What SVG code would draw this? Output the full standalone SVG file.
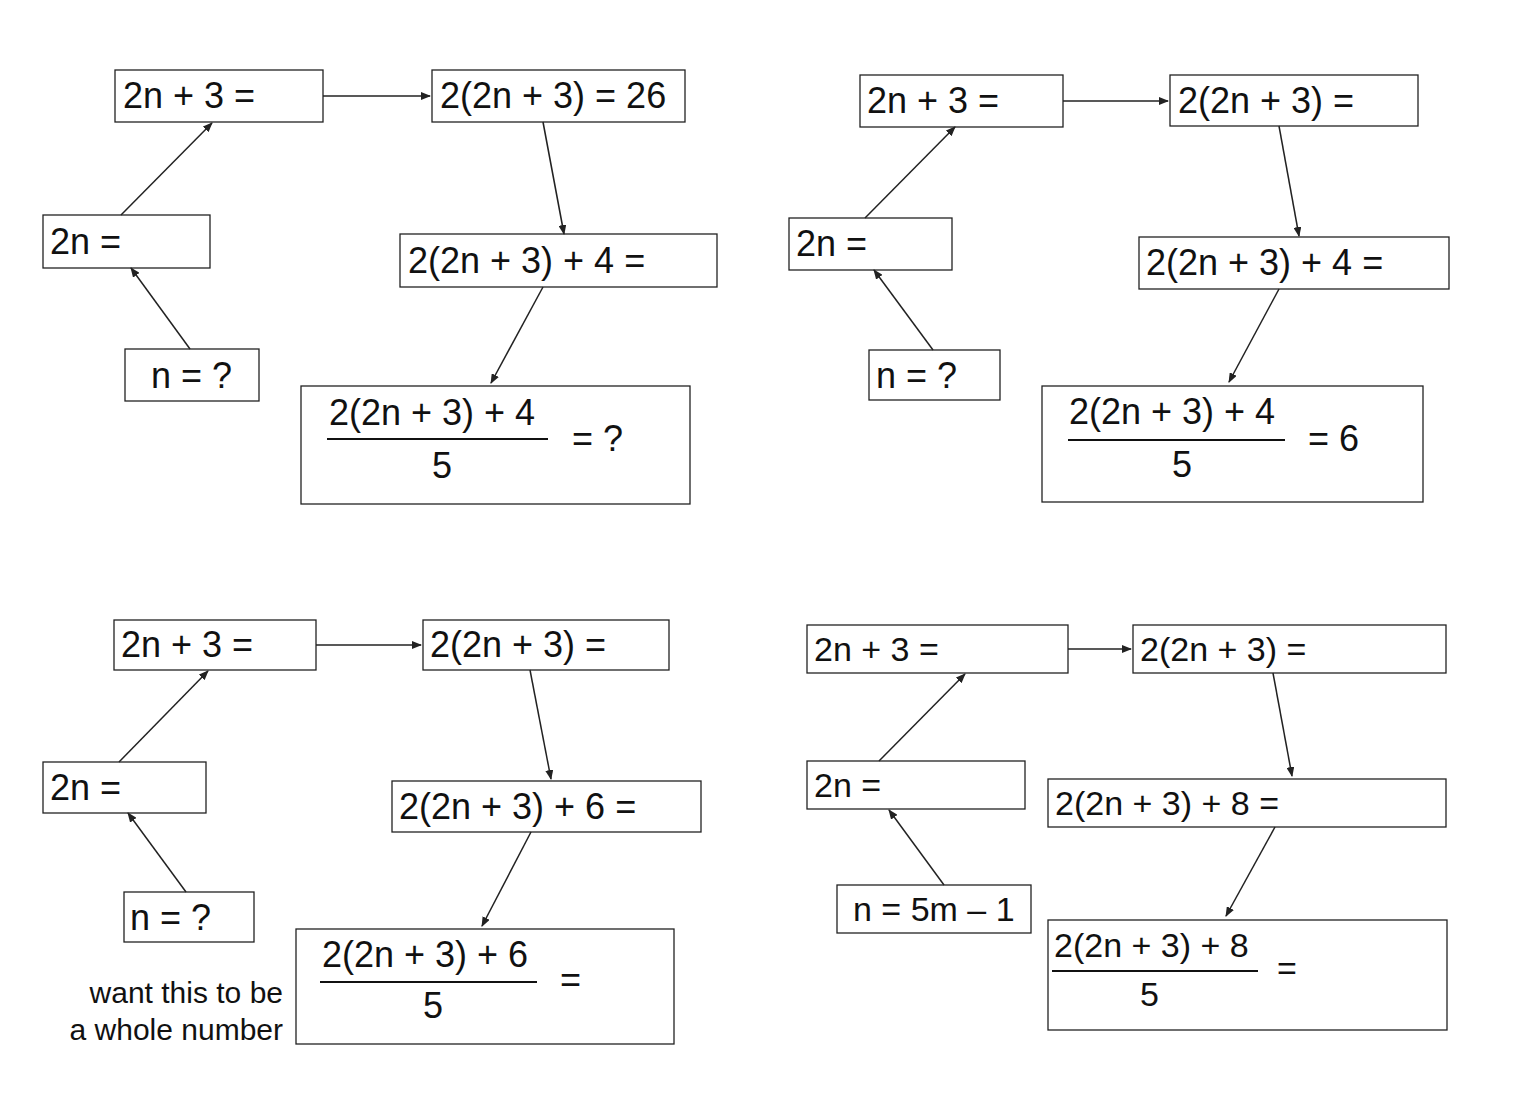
<svg xmlns="http://www.w3.org/2000/svg" width="1518" height="1104" viewBox="0 0 1518 1104">
<defs>
<marker id="ah" markerWidth="10" markerHeight="8" refX="9" refY="4" orient="auto" markerUnits="userSpaceOnUse"><path d="M0,0 L10,4 L0,8 z" fill="#222"/></marker>
<style>
rect{fill:#fff;stroke:#222;stroke-width:1.3}
text{font-family:"Liberation Sans",Arial,sans-serif;font-size:36px;fill:#111}
.s{font-size:34px}
.n{font-size:30px;text-anchor:end}
.c line{stroke:#222;stroke-width:1.5;marker-end:url(#ah)}
.fl{stroke:#111;stroke-width:2}
</style>
</defs>
<rect x="0" y="0" width="1518" height="1104" style="stroke:none"/>
<g id="p1a"><rect x="115" y="70" width="208" height="52"/><text x="123" y="108">2n + 3 =</text></g>
<g id="p1b"><rect x="432" y="70" width="253" height="52"/><text x="440" y="108">2(2n + 3) = 26</text></g>
<g id="p1c"><rect x="43" y="215" width="167" height="53"/><text x="50" y="254">2n =</text></g>
<g id="p1d"><rect x="400" y="234" width="317" height="53"/><text x="408" y="273">2(2n + 3) + 4 =</text></g>
<g id="p1e"><rect x="125" y="349" width="134" height="52"/><text x="151" y="388">n = ?</text></g>
<g id="p1f"><rect x="301" y="386" width="389" height="118"/><text x="329" y="425">2(2n + 3) + 4</text><line class="fl" x1="327" y1="439" x2="548" y2="439"/><text x="432" y="478">5</text><text x="572" y="451">= ?</text></g>

<g id="p2a"><rect x="860" y="75" width="203" height="52"/><text x="867" y="113">2n + 3 =</text></g>
<g id="p2b"><rect x="1170" y="75" width="248" height="51"/><text x="1178" y="113">2(2n + 3) =</text></g>
<g id="p2c"><rect x="789" y="218" width="163" height="52"/><text x="796" y="256">2n =</text></g>
<g id="p2d"><rect x="1139" y="237" width="310" height="52"/><text x="1146" y="275">2(2n + 3) + 4 =</text></g>
<g id="p2e"><rect x="869" y="350" width="131" height="50"/><text x="876" y="388">n = ?</text></g>
<g id="p2f"><rect x="1042" y="386" width="381" height="116"/><text x="1069" y="424">2(2n + 3) + 4</text><line class="fl" x1="1068" y1="440" x2="1285" y2="440"/><text x="1172" y="477">5</text><text x="1308" y="451">= 6</text></g>

<g id="p3a"><rect x="114" y="620" width="202" height="50"/><text x="121" y="657">2n + 3 =</text></g>
<g id="p3b"><rect x="423" y="620" width="246" height="50"/><text x="430" y="657">2(2n + 3) =</text></g>
<g id="p3c"><rect x="43" y="762" width="163" height="51"/><text x="50" y="800">2n =</text></g>
<g id="p3d"><rect x="392" y="781" width="309" height="51"/><text x="399" y="819">2(2n + 3) + 6 =</text></g>
<g id="p3e"><rect x="124" y="892" width="130" height="50"/><text x="130" y="930">n = ?</text></g>
<g id="p3f"><rect x="296" y="929" width="378" height="115"/><text x="322" y="967">2(2n + 3) + 6</text><line class="fl" x1="320" y1="982" x2="537" y2="982"/><text x="423" y="1018">5</text><text x="560" y="992">=</text></g>
<g id="p3note"><text class="n" x="283" y="1003">want this to be</text><text class="n" x="283" y="1040">a whole number</text></g>

<g id="p4a"><rect x="807" y="625" width="261" height="48"/><text class="s" x="814" y="661">2n + 3 =</text></g>
<g id="p4b"><rect x="1133" y="625" width="313" height="48"/><text class="s" x="1140" y="661">2(2n + 3) =</text></g>
<g id="p4c"><rect x="807" y="761" width="218" height="48"/><text class="s" x="814" y="797">2n =</text></g>
<g id="p4d"><rect x="1048" y="779" width="398" height="48"/><text class="s" x="1055" y="815">2(2n + 3) + 8 =</text></g>
<g id="p4e"><rect x="837" y="885" width="194" height="48"/><text class="s" x="853" y="921">n = 5m – 1</text></g>
<g id="p4f"><rect x="1048" y="920" width="399" height="110"/><text class="s" x="1054" y="957">2(2n + 3) + 8</text><line class="fl" x1="1052" y1="971" x2="1258" y2="971"/><text class="s" x="1140" y="1006">5</text><text class="s" x="1277" y="980">=</text></g>

<g id="connectors" class="c">
<line x1="323" y1="96" x2="430" y2="96"/><line x1="121" y1="215" x2="212" y2="123"/><line x1="190" y1="349" x2="131" y2="268"/><line x1="543" y1="122" x2="564" y2="234"/><line x1="543" y1="287" x2="491" y2="383"/>
<line x1="1063" y1="101" x2="1168" y2="101"/><line x1="865" y1="218" x2="955" y2="127"/><line x1="933" y1="350" x2="874" y2="270"/><line x1="1279" y1="126" x2="1299" y2="236"/><line x1="1279" y1="289" x2="1229" y2="382"/>
<line x1="316" y1="645" x2="421" y2="645"/><line x1="119" y1="762" x2="208" y2="671"/><line x1="186" y1="892" x2="128" y2="813"/><line x1="530" y1="670" x2="551" y2="779"/><line x1="531" y1="832" x2="482" y2="926"/>
<line x1="1068" y1="649" x2="1131" y2="649"/><line x1="879" y1="761" x2="965" y2="674"/><line x1="944" y1="885" x2="889" y2="810"/><line x1="1273" y1="673" x2="1292" y2="776"/><line x1="1275" y1="827" x2="1226" y2="916"/>
</g>
</svg>
